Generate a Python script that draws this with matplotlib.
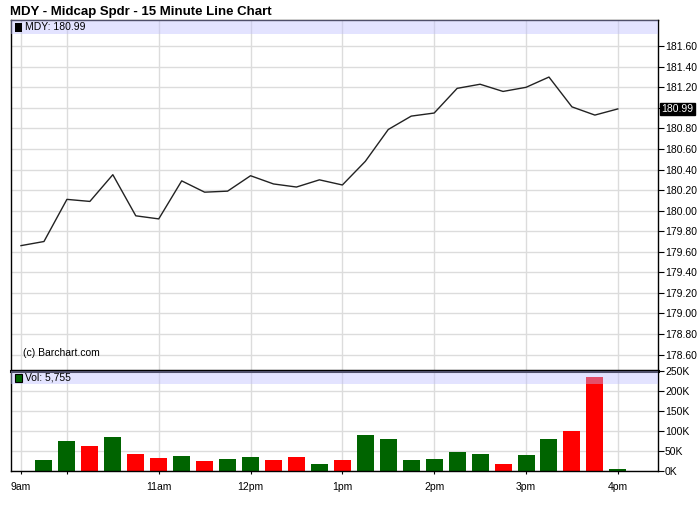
import numpy as np
import matplotlib
matplotlib.use("Agg")
import matplotlib.pyplot as plt
from matplotlib.patches import Rectangle

# 15 minute closes, 9:30 .. 16:00
closes = [179.66, 179.70, 180.11, 180.09, 180.35, 179.95, 179.92, 180.29, 180.18,
          180.19, 180.34, 180.26, 180.23, 180.30, 180.25, 180.48, 180.79, 180.92,
          180.95, 181.19, 181.23, 181.16, 181.20, 181.30, 181.01, 180.93, 180.99]
# volume per bar (first slot has no bar)
volumes = [0, 28400, 76000, 63600, 86000, 43500, 33400, 38400, 25900, 31000,
           36000, 28400, 36000, 18300, 28400, 91000, 81000, 28400, 31000, 48500,
           43500, 18300, 41000, 81000, 101000, 237000, 5755]
xtick_pos = [0, 2, 6, 10, 14, 18, 22, 26]
xtick_labels = ["9am", "", "11am", "12pm", "1pm", "2pm", "3pm", "4pm"]
price_ticks = np.arange(178.6, 181.61, 0.2)
vol_ticks = [0, 50000, 100000, 150000, 200000, 250000]
vol_labels = ["0K", "50K", "100K", "150K", "200K", "250K"]

GREEN = "#006400"
RED = "#ff0000"
GRID = "#dcdcdc"
BAND = "#bebeff"
FS = 7.5

x = np.arange(len(closes))
colors = [GREEN] + [GREEN if closes[i] >= closes[i - 1] else RED
                    for i in range(1, len(closes))]

plt.rcParams["font.family"] = ["Liberation Sans", "DejaVu Sans"]
fig = plt.figure(figsize=(7, 5.12), dpi=100)
fig.text(0.015, 0.989, "MDY - Midcap Spdr - 15 Minute Line Chart",
         fontsize=9.5, fontweight="bold", va="top", ha="left")

L, W = 11 / 700, 647 / 700
ax = fig.add_axes([L, 1 - 370 / 512, W, 350 / 512])
axv = fig.add_axes([L, 1 - 471 / 512, W, 100 / 512])

xlim = (-0.436, 27.75)

# price panel
ax.plot(x, closes, color="#222222", lw=1)
ax.set_xlim(*xlim)
ax.set_ylim(178.45, 181.855)
ax.set_yticks(price_ticks)
# the 181.00 label is hidden behind the last-price box
ax.set_yticklabels(["" if abs(v - 181.0) < 1e-6 else "%.2f" % v for v in price_ticks])
ax.set_xticks(xtick_pos)
ax.tick_params(axis="x", length=0, labelbottom=False)
ax.yaxis.tick_right()
ax.tick_params(axis="y", length=4, width=0.8, labelsize=FS, pad=1)
ax.grid(True, color=GRID, lw=1)
ax.set_axisbelow(True)
for s in ax.spines.values():
    s.set_color("black")
    s.set_linewidth(1)
ax.add_patch(Rectangle((0, 1 - 14 / 350), 1, 14 / 350, transform=ax.transAxes,
                       facecolor=BAND, alpha=0.42, lw=0, zorder=3))
ax.add_patch(Rectangle((0.006, 1 - 11.5 / 350), 0.011, 8 / 350, transform=ax.transAxes,
                       facecolor="black", lw=0, zorder=4))
ax.text(0.021, 1 - 7 / 350, "MDY: %.2f" % closes[-1], transform=ax.transAxes,
        fontsize=FS, va="center", ha="left", zorder=4)
ax.text(0.018, 12 / 350, "(c) Barchart.com", transform=ax.transAxes,
        fontsize=FS, va="bottom", ha="left")
ax.annotate("%.2f" % closes[-1], xy=(1, closes[-1]),
            xycoords=("axes fraction", "data"), xytext=(2.5, 0),
            textcoords="offset points", fontsize=FS, color="white",
            va="center", ha="left", annotation_clip=False,
            bbox=dict(boxstyle="square,pad=0.1", fc="black", ec="black"))

# volume panel
axv.bar(x[1:], volumes[1:], width=0.74, color=colors[1:], zorder=2)
axv.set_xlim(*xlim)
axv.set_ylim(0, 251000)
axv.set_yticks(vol_ticks)
axv.set_yticklabels(vol_labels)
axv.yaxis.tick_right()
axv.tick_params(axis="y", length=4, width=0.8, labelsize=FS, pad=1)
axv.set_xticks(xtick_pos)
axv.set_xticklabels(xtick_labels)
axv.tick_params(axis="x", length=2, width=0.8, labelsize=FS, pad=6)
axv.grid(True, color=GRID, lw=1, zorder=0)
axv.set_axisbelow(True)
for s in axv.spines.values():
    s.set_color("black")
    s.set_linewidth(1)
axv.spines["top"].set_linewidth(2.2)
axv.add_patch(Rectangle((0, 1 - 13 / 100), 1, 13 / 100, transform=axv.transAxes,
                        facecolor=BAND, alpha=0.42, lw=0, zorder=3))
axv.add_patch(Rectangle((0.006, 1 - 10.5 / 100), 0.011, 8 / 100, transform=axv.transAxes,
                        facecolor=GREEN, edgecolor="black", lw=0.8, zorder=4))
axv.text(0.021, 1 - 6.5 / 100, "Vol: {:,}".format(volumes[-1]), transform=axv.transAxes,
         fontsize=FS, va="center", ha="left", zorder=4)

fig.savefig("out.png", dpi=100)
